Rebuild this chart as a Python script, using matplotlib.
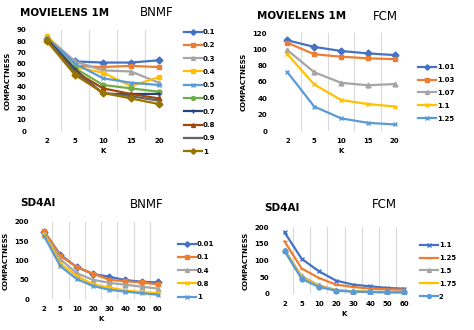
import matplotlib
matplotlib.use("Agg")
import matplotlib.pyplot as plt

# ---- data ----
k_ml = ["2", "5", "10", "15", "20"]
k_sd = ["2", "5", "10", "20", "30", "40", "50", "60"]

ml_bnmf_labels = ["0.1", "0.2", "0.3", "0.4", "0.5", "0.6", "0.7", "0.8", "0.9", "1"]
ml_bnmf_values = [
    [82, 62, 61, 61, 63],
    [83, 58, 57, 58, 57],
    [84, 62, 54, 53, 43],
    [85, 57, 52, 40, 48],
    [83, 60, 47, 43, 41],
    [82, 56, 41, 38, 35],
    [82, 55, 33, 33, 33],
    [81, 53, 38, 33, 29],
    [81, 52, 34, 31, 27],
    [80, 50, 34, 29, 24],
]

ml_fcm_labels = ["1.01", "1.03", "1.07", "1.1", "1.25"]
ml_fcm_values = [
    [111, 103, 98, 95, 93],
    [108, 94, 91, 89, 88],
    [99, 72, 59, 56, 57.5],
    [94, 57, 38, 33, 30],
    [72, 30, 15.5, 10, 8],
]

sd_bnmf_labels = ["0.01", "0.1", "0.4", "0.8", "1"]
sd_bnmf_values = [
    [175, 115, 83, 65, 58, 49, 45, 43],
    [177, 112, 83, 66, 50, 46, 43, 38],
    [170, 103, 67, 50, 42, 37, 32, 27],
    [168, 92, 60, 38, 30, 22, 18, 15],
    [163, 85, 52, 34, 24, 19, 15, 11],
]

sd_fcm_labels = ["1.1", "1.25", "1.5", "1.75", "2"]
sd_fcm_values = [
    [184, 105, 68, 40, 28, 23, 18, 16],
    [157, 76, 48, 28, 21, 16, 14, 13],
    [132, 53, 26, 12, 8, 7, 6, 6],
    [130, 50, 24, 11, 8, 6, 5, 5],
    [128, 45, 21, 10, 7, 6, 5, 5],
]

excel = ['#4472C4', '#ED7D31', '#A5A5A5', '#FFC000', '#5B9BD5',
         '#70AD47', '#264478', '#9E480E', '#636363', '#997300']

W, H = 474, 330
fig = plt.figure(figsize=(W / 100, H / 100), dpi=100)
fig.patch.set_facecolor('white')


def px_axes(left, top, width, height):
    return fig.add_axes([left / W, 1 - (top + height) / H, width / W, height / H])


def panel(ax, cats, labels, values, colors, markers, ymax, ystep):
    x = list(range(len(cats)))
    for i, (lab, vals) in enumerate(zip(labels, values)):
        ax.plot(x, vals, color=colors[i], lw=1.6, marker=markers[i],
                ms=3.5, mew=1.0, label=lab)
    ax.set_xlim(-0.5, len(cats) - 0.5)
    ax.set_ylim(0, ymax)
    ax.set_yticks(range(0, ymax + 1, ystep))
    ax.set_xticks(x)
    ax.set_xticklabels(cats)
    for b in range(1, len(cats)):
        ax.axvline(b - 0.5, color='#D9D9D9', lw=0.8, zorder=0)
    for s in ax.spines.values():
        s.set_visible(False)
    ax.tick_params(length=0, labelsize=5, pad=5)
    for t in ax.get_xticklabels() + ax.get_yticklabels():
        t.set_fontweight('bold')
    ax.set_xlabel("K", fontsize=5, fontweight='bold', labelpad=3)


def legend(ax, x, y, spacing):
    ax.legend(loc='upper left', bbox_to_anchor=(x / W, 1 - y / H),
              bbox_transform=fig.transFigure, frameon=False,
              prop={'size': 5, 'weight': 'bold'}, handlelength=2.6,
              handletextpad=0.1, labelspacing=spacing, borderpad=0,
              borderaxespad=0, markerscale=0.8)


# top-left: MovieLens BNMF
ax1 = px_axes(33, 30, 140, 101)
panel(ax1, k_ml, ml_bnmf_labels, ml_bnmf_values, excel,
      ['D', 's', '^', 's', 'x', 'o', '+', '^', '', 'D'], 90, 10)
ax1.set_ylabel("COMPACTNESS", fontsize=5, fontweight='bold', labelpad=4)
legend(ax1, 184, 29, 1.05)
fig.text(20 / W, 1 - 13 / H, "MOVIELENS 1M", fontsize=7.5, fontweight='bold', va='center')
fig.text(140 / W, 1 - 13 / H, "BNMF", fontsize=8.5, va='center')

# top-right: MovieLens FCM
ax2 = px_axes(274, 33, 134, 98)
panel(ax2, k_ml, ml_fcm_labels, ml_fcm_values, excel[:5],
      ['D', 's', '^', 'x', 'x'], 120, 20)
ax2.set_ylabel("COMPACTNESS", fontsize=5, fontweight='bold', labelpad=4)
legend(ax2, 418, 64, 1.0)
fig.text(257 / W, 1 - 16 / H, "MOVIELENS 1M", fontsize=7.5, fontweight='bold', va='center')
fig.text(373 / W, 1 - 16 / H, "FCM", fontsize=8.5, va='center')

# bottom-left: SD4AI BNMF
ax3 = px_axes(36, 222, 130, 77)
panel(ax3, k_sd, sd_bnmf_labels, sd_bnmf_values, excel[:5],
      ['D', 's', '^', 'x', 'x'], 200, 50)
ax3.set_ylabel("COMPACTNESS", fontsize=5, fontweight='bold', labelpad=4)
legend(ax3, 178, 241, 1.05)
fig.text(20 / W, 1 - 203 / H, "SD4AI", fontsize=7.5, fontweight='bold', va='center')
fig.text(130 / W, 1 - 205 / H, "BNMF", fontsize=8.5, va='center')

# bottom-right: SD4AI FCM
ax4 = px_axes(276, 227, 137, 67)
panel(ax4, k_sd, sd_fcm_labels, sd_fcm_values,
      ['#4472C4', '#ED7D31', '#A5A5A5', '#FFC000', '#5B9BD5'],
      ['x', '_', '^', '_', 'o'], 200, 50)
ax4.set_ylabel("COMPACTNESS", fontsize=5, fontweight='bold', labelpad=4)
legend(ax4, 420, 242, 1.0)
fig.text(264 / W, 1 - 208 / H, "SD4AI", fontsize=7.5, fontweight='bold', va='center')
fig.text(372 / W, 1 - 204 / H, "FCM", fontsize=8.5, va='center')

fig.savefig("out.png", dpi=100)
